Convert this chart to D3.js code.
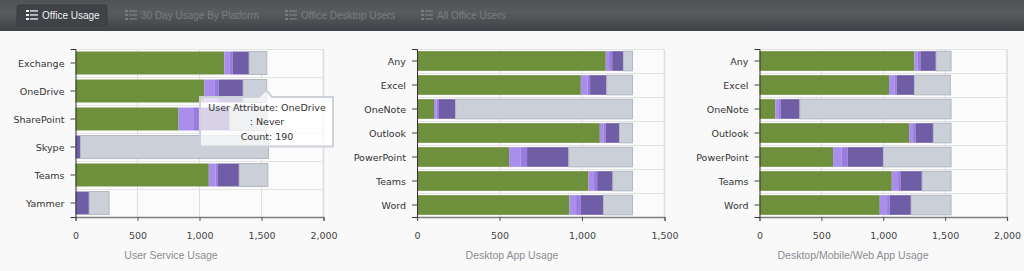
<!DOCTYPE html>
<html><head><meta charset="utf-8">
<script src="https://cdn.jsdelivr.net/npm/d3@7"></script>
<style>
html,body{margin:0;padding:0;background:#f9f9f9;overflow:hidden}
svg{display:block}
</style></head><body>
<svg id="c" width="1024" height="271"></svg>
<script>
const navLabels = ["Office Usage","30 Day Usage By Platform","Office Desktop Users","All Office Users"];
const serviceCats = ["Exchange","OneDrive","SharePoint","Skype","Teams","Yammer"];
const serviceGreen = [1200,1038,831,0,1075,0];
const serviceLight = [1245,1124,949,0,1129,0];
const serviceMid   = [1266,1156,995,0,1148,0];
const serviceDark  = [1400,1352,1245,40,1320,110];
const serviceGray  = [1543,1542,1545,1556,1551,271];
const desktopCats = ["Any","Excel","OneNote","Outlook","PowerPoint","Teams","Word"];
const desktopGreen = [1144,993,103,1108,558,1039,924];
const desktopLight = [1164,1033,119,1130,627,1073,964];
const desktopMid   = [1183,1049,133,1144,667,1092,993];
const desktopDark  = [1251,1150,234,1227,920,1187,1130];
const desktopGray  = [1306,1306,1306,1306,1306,1306,1306];
const allAppGreen = [1252,1047,129,1209,595,1069,972];
const allAppLight = [1279,1090,151,1241,665,1120,1031];
const allAppMid   = [1300,1109,170,1260,713,1139,1052];
const allAppDark  = [1427,1252,326,1405,1001,1314,1225];
const allAppGray  = [1548,1542,1548,1548,1548,1548,1548];
const xTicksA = [0,500,1000,1500,2000];
const xTicksB = [0,500,1000,1500];
const titles = ["User Service Usage","Desktop App Usage","Desktop/Mobile/Web App Usage"];
const segColors = ["#6e8f3c","#a98eec","#9a7ce0","#6f5ea6","#cbcfd8"];
const tooltipLines = ["User Attribute: OneDrive",": Never","Count: 190"];

const svg = d3.select("#c");
const defs = svg.append("defs");
const g = defs.append("linearGradient").attr("id","nav").attr("x1",0).attr("x2",0).attr("y1",0).attr("y2",1);
g.append("stop").attr("offset",0).attr("stop-color","#4e5255");
g.append("stop").attr("offset",.4).attr("stop-color","#585c5f");
g.append("stop").attr("offset",1).attr("stop-color","#3e4145");

svg.append("rect").attr("width",1024).attr("height",31).attr("fill","url(#nav)");
const navIconX = [26,125,285,421];
svg.append("rect").attr("x",17).attr("y",5).attr("width",90).attr("height",21).attr("rx",2)
  .attr("fill","#3f4247").attr("stroke","#383b3f");
navLabels.forEach((t,i)=>{
  const col = i===0 ? "#f0f0f0" : "#7a7d80";
  const ix = navIconX[i], iy = 10;
  const n = svg.append("g").attr("fill",col);
  [0,4,8].forEach(d=>{
    n.append("rect").attr("x",ix).attr("y",iy+d).attr("width",3).attr("height",2);
    n.append("rect").attr("x",ix+4).attr("y",iy+d+.3).attr("width",8).attr("height",1.3);
  });
  svg.append("text").attr("x",ix+16).attr("y",18.5).attr("font-family","Liberation Sans")
    .attr("font-size",10).attr("fill",col).text(t);
});

function chart(cats, stacks, x0, x1, maxV, ticks, title, titleX){
  const top=49, bottom=217;
  const x = d3.scaleLinear().domain([0,maxV]).range([x0,x1]);
  const y = d3.scaleBand().domain(cats).range([top,bottom]).paddingInner(0.18).paddingOuter(0.09);
  const root = svg.append("g");
  root.append("rect").attr("x",x0).attr("y",top).attr("width",x1-x0).attr("height",bottom-top).attr("fill","#fbfbfb");
  root.selectAll(".gv").data(ticks.slice(1)).join("line")
    .attr("x1",d=>x(d)).attr("x2",d=>x(d)).attr("y1",top).attr("y2",bottom)
    .attr("stroke","#dedede").attr("stroke-width",d=>d===maxV?1.6:1);
  const step = (bottom-top)/cats.length;
  const hs = d3.range(0,cats.length);
  root.selectAll(".gh").data(hs).join("line")
    .attr("x1",x0).attr("x2",x1).attr("y1",d=>Math.round(top+d*step)+.5).attr("y2",d=>Math.round(top+d*step)+.5).attr("stroke","#e4e4e4");
  cats.forEach((c,i)=>{
    let prev=0;
    stacks.forEach((s,k)=>{
      const v=s[i];
      if(v>prev){
        root.append("rect").attr("x",x(prev)).attr("y",y(c)).attr("width",x(v)-x(prev)).attr("height",y.bandwidth())
          .attr("fill",segColors[k]).attr("stroke",k===4?"#b4b8c2":"none").attr("stroke-width",k===4?1:0);
      }
      prev=Math.max(prev,v);
    });
  });
  const ax = root.append("g").attr("transform",`translate(0,${bottom})`)
    .call(d3.axisBottom(x).tickValues(ticks).tickFormat(d3.format(",")).tickSize(4).tickPadding(11));
  ax.select(".domain").attr("stroke","#808080").attr("stroke-width",1.3);
  ax.selectAll(".tick line").attr("stroke","#555");
  ax.selectAll("text").attr("font-family","DejaVu Sans").attr("font-size",9.5).attr("fill","#444");
  const ay = root.append("g").attr("transform",`translate(${x0},0)`)
    .call(d3.axisLeft(y).tickSize(5).tickPadding(6));
  ay.select(".domain").attr("stroke","#333");
  ay.selectAll(".tick line").attr("stroke","#444");
  ay.selectAll("text").attr("font-family","DejaVu Sans").attr("font-size",9.5).attr("fill","#333").attr("dy","0.42em");
  root.append("text").attr("x",titleX).attr("y",259).attr("text-anchor","middle")
    .attr("font-family","Liberation Sans").attr("font-size",10.5).attr("fill","#8b8d92").text(title);
}
chart(serviceCats,[serviceGreen,serviceLight,serviceMid,serviceDark,serviceGray],75.5,323.5,2000,xTicksA,titles[0],171);
chart(desktopCats,[desktopGreen,desktopLight,desktopMid,desktopDark,desktopGray],417,664.5,1500,xTicksB,titles[1],512);
chart(desktopCats,[allAppGreen,allAppLight,allAppMid,allAppDark,allAppGray],759.5,1007,2000,xTicksA,titles[2],853);

const tip = svg.append("g");
tip.append("path").attr("d","M200 97 H259 L266 90 L272 97 H333 V146.5 H200 Z")
  .attr("fill","#ffffff").attr("fill-opacity",.72).attr("stroke","#cdd1d8").attr("stroke-width",2);
tooltipLines.forEach((t,i)=>{
  tip.append("text").attr("x",267).attr("y",110.5+i*14.5).attr("text-anchor","middle")
    .attr("font-family","DejaVu Sans").attr("font-size",9.5).attr("fill","#333").text(t);
});
</script></body></html>
